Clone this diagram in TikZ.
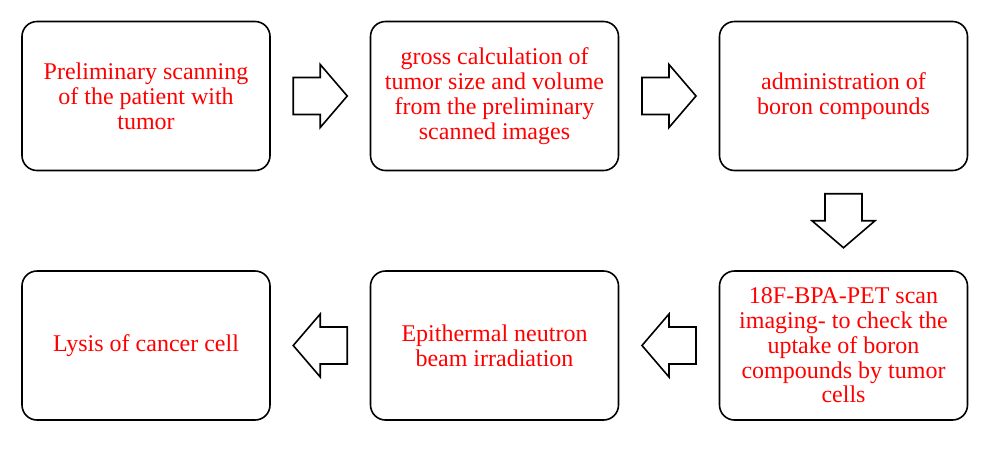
\documentclass[tikz,border=0pt]{standalone}
\usepackage{fontspec}
\setmainfont{Liberation Serif}
\newfontfamily\boxfont{Liberation Serif}
\begin{document}
\begin{tikzpicture}[x=1pt,y=-1pt,
  stepbox/.style={draw=black, line width=1.6pt, rounded corners=15pt, minimum width=248pt, minimum height=149pt, inner sep=0pt, align=center, text=red, font=\boxfont\fontsize{24}{24.8}\selectfont},
  blockarrow/.style={draw=black, fill=white, line width=1.6pt, line join=miter}]
\useasboundingbox (0,0) rectangle (993,448);
\node[stepbox] (b1) at (146,96) {Preliminary scanning\\of the patient with\\tumor};
\node[stepbox] (b2) at (494.5,96) {gross calculation of\\tumor size and volume\\from the preliminary\\scanned images};
\node[stepbox] (b3) at (843.5,96) {administration of\\boron compounds};
\node[stepbox] (b5) at (843.5,345.5) {18F-BPA-PET scan\\imaging- to check the\\uptake of boron\\compounds by tumor\\cells};
\node[stepbox] (b4) at (494.5,345.5) {Epithermal neutron\\beam irradiation};
\node[stepbox] (b6) at (146,345.5) {Lysis of cancer cell};
\path (b1) -- (b2) coordinate[midway] (m12);
\path (b2) -- (b3) coordinate[midway] (m23);
\path (b3) -- (b5) coordinate[midway] (m35);
\path (b5) -- (b4) coordinate[midway] (m54);
\path (b4) -- (b6) coordinate[midway] (m46);
\draw[blockarrow, shift={(m12)}] (-27,-18.5) -- (0,-18.5) -- (0,-31.5) -- (27,0) -- (0,31.5) -- (0,18.5) -- (-27,18.5) -- cycle;
\draw[blockarrow, shift={(m23)}] (-27,-18.5) -- (0,-18.5) -- (0,-31.5) -- (27,0) -- (0,31.5) -- (0,18.5) -- (-27,18.5) -- cycle;
\draw[blockarrow, shift={(m35)}] (-18.5,-27) -- (-18.5,0) -- (-31.5,0) -- (0,27) -- (31.5,0) -- (18.5,0) -- (18.5,-27) -- cycle;
\draw[blockarrow, shift={(m54)}] (27,-18.5) -- (0,-18.5) -- (0,-31.5) -- (-27,0) -- (0,31.5) -- (0,18.5) -- (27,18.5) -- cycle;
\draw[blockarrow, shift={(m46)}] (27,-18.5) -- (0,-18.5) -- (0,-31.5) -- (-27,0) -- (0,31.5) -- (0,18.5) -- (27,18.5) -- cycle;
\end{tikzpicture}
\end{document}
